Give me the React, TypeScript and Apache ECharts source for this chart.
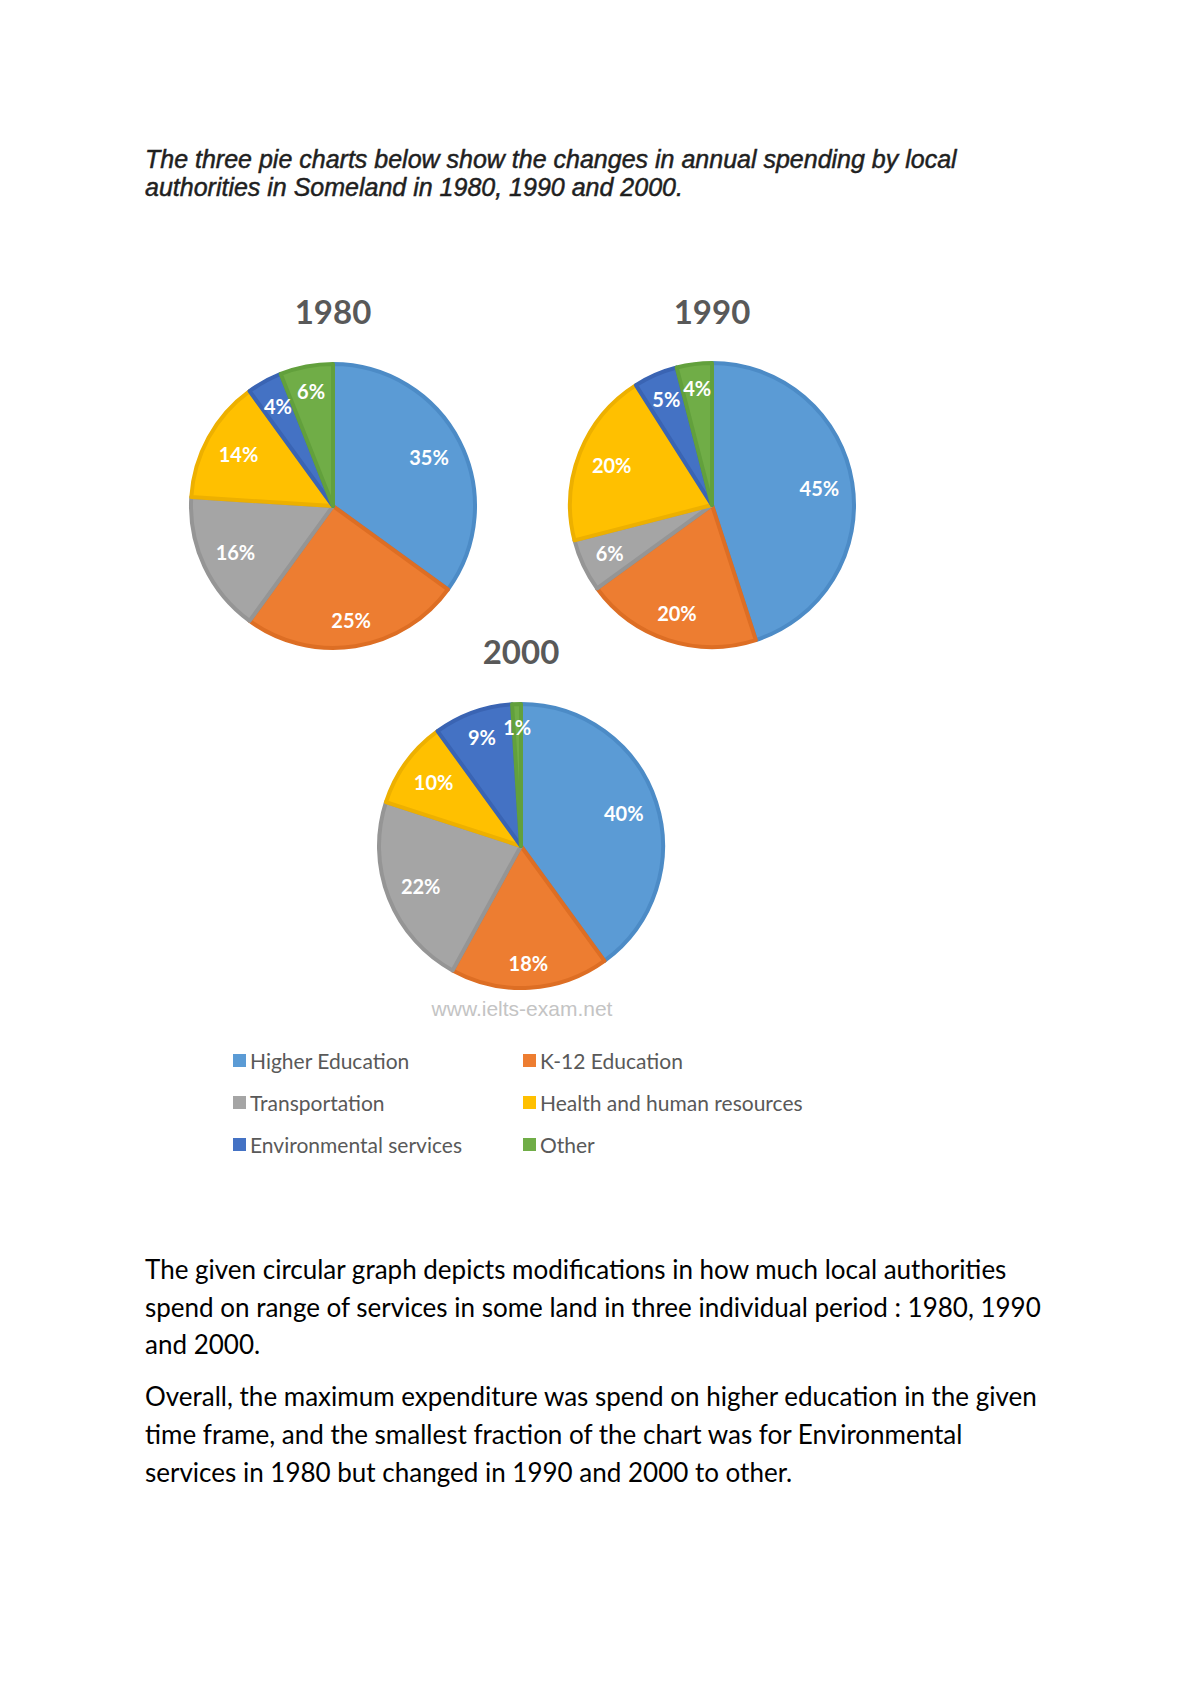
import React, { useEffect, useRef } from "react";
import * as echarts from "echarts";

const categories = [
  "Higher Education",
  "K-12 Education",
  "Transportation",
  "Health and human resources",
  "Environmental services",
  "Other",
];
const fills = ["#5B9BD5", "#ED7D31", "#A5A5A5", "#FFC000", "#4472C4", "#70AD47"];
const edges = ["#4C8BC6", "#DD6E24", "#959595", "#EDB000", "#3A64B3", "#62A03C"];

const years = ["1980", "1990", "2000"];
const values1980 = [35, 25, 16, 14, 4, 6];
const values1990 = [45, 20, 6, 20, 5, 4];
const values2000 = [40, 18, 22, 10, 9, 1];
const allValues = [values1980, values1990, values2000];

const titleLines = [
  "The three pie charts below show the changes in annual spending by local",
  "authorities in Someland in 1980, 1990 and 2000.",
];
const bodyLines = [
  "The given circular graph depicts modifications in how much local authorities",
  "spend on range of services in some land in three individual period : 1980, 1990",
  "and 2000.",
  "Overall, the maximum expenditure was spend on higher education in the given",
  "time frame, and the smallest fraction of the chart was for Environmental",
  "services in 1980 but changed in 1990 and 2000 to other.",
];
const watermark = "www.ielts-exam.net";

const pieCenters = [
  [333, 506],
  [712, 505],
  [521, 846],
];
const R = 142;
const LABEL_MARGIN = 12;

export default function App() {
  const ref = useRef<HTMLDivElement>(null);
  useEffect(() => {
    if (!ref.current) return;
    const chart = echarts.init(ref.current, null, { renderer: "svg" });

    // "inside end" placement: push each label outward until its far corner sits near the rim
    const labelLayout = (p: any) => {
      const c = pieCenters[p.seriesIndex];
      const lr = p.labelRect;
      if (!c || !lr) return {};
      const lx = lr.x + lr.width / 2;
      const ly = lr.y + lr.height / 2;
      const vx = lx - c[0];
      const vy = ly - c[1];
      const d = Math.sqrt(vx * vx + vy * vy) || 1;
      const ux = vx / d;
      const uy = vy / d;
      const w2 = lr.width / 2;
      const h2 = lr.height / 2;
      const lim = R - LABEL_MARGIN;
      const b = Math.abs(ux) * w2 + Math.abs(uy) * h2;
      const cc = w2 * w2 + h2 * h2 - lim * lim;
      const t = -b + Math.sqrt(Math.max(0, b * b - cc));
      return { dx: c[0] + ux * t - lx, dy: c[1] + uy * t - ly };
    };

    const series: any[] = allValues.map((vals, i) => ({
      type: "pie",
      name: years[i],
      center: pieCenters[i],
      radius: [0, R],
      startAngle: 90,
      clockwise: true,
      data: vals.map((v, j) => ({
        name: categories[j],
        value: v,
        itemStyle: { color: fills[j], borderColor: edges[j], borderWidth: 4 },
      })),
      label: {
        show: true,
        position: "inside",
        formatter: "{c}%",
        color: "#ffffff",
        fontFamily: "Lato",
        fontWeight: "bold",
        fontSize: 20,
      },
      labelLayout,
      labelLine: { show: false },
      emphasis: { disabled: true },
      silent: true,
    }));

    const graphic: any[] = [];
    titleLines.forEach((t, i) => {
      graphic.push({
        type: "text",
        x: 145,
        y: 159 + i * 28,
        style: {
          text: t,
          fill: "#1f1f1f",
          stroke: "#1f1f1f",
          lineWidth: 0.5,
          font: "italic 25px 'Liberation Sans'",
          textVerticalAlign: "middle",
        },
      });
    });
    const yearPos = [
      [333, 311],
      [712, 311],
      [521, 651],
    ];
    years.forEach((y, i) => {
      graphic.push({
        type: "text",
        x: yearPos[i][0],
        y: yearPos[i][1],
        style: {
          text: y,
          fill: "#595959",
          font: "bold 33px Lato",
          textAlign: "center",
          textVerticalAlign: "middle",
        },
      });
    });
    graphic.push({
      type: "text",
      x: 522,
      y: 1008,
      style: {
        text: watermark,
        fill: "#C4C4C4",
        font: "21px 'Liberation Sans'",
        textAlign: "center",
        textVerticalAlign: "middle",
      },
    });
    const bodyY = [1269, 1307, 1344, 1396, 1434, 1472];
    bodyLines.forEach((t, i) => {
      graphic.push({
        type: "text",
        x: 145,
        y: bodyY[i],
        style: {
          text: t,
          fill: "#000000",
          font: "26px Lato",
          textVerticalAlign: "middle",
        },
      });
    });

    const legendCommon = {
      orient: "vertical",
      icon: "rect",
      itemWidth: 13,
      itemHeight: 13,
      itemGap: 21,
      padding: 0,
      selectedMode: false,
      itemStyle: { borderWidth: 0 },
      textStyle: { color: "#595959", fontFamily: "Lato", fontSize: 21, padding: [0, 0, 0, -1] },
    };

    chart.setOption({
      animation: false,
      backgroundColor: "#ffffff",
      legend: [
        {
          ...legendCommon,
          left: 233,
          top: 1050,
          data: [categories[0], categories[2], categories[4]],
        },
        {
          ...legendCommon,
          left: 523,
          top: 1050,
          data: [categories[1], categories[3], categories[5]],
        },
      ],
      series,
      graphic,
    });
    return () => chart.dispose();
  }, []);
  return (
    <div
      ref={ref}
      style={{ position: "absolute", left: 0, top: 0, width: 1200, height: 1696 }}
    />
  );
}
